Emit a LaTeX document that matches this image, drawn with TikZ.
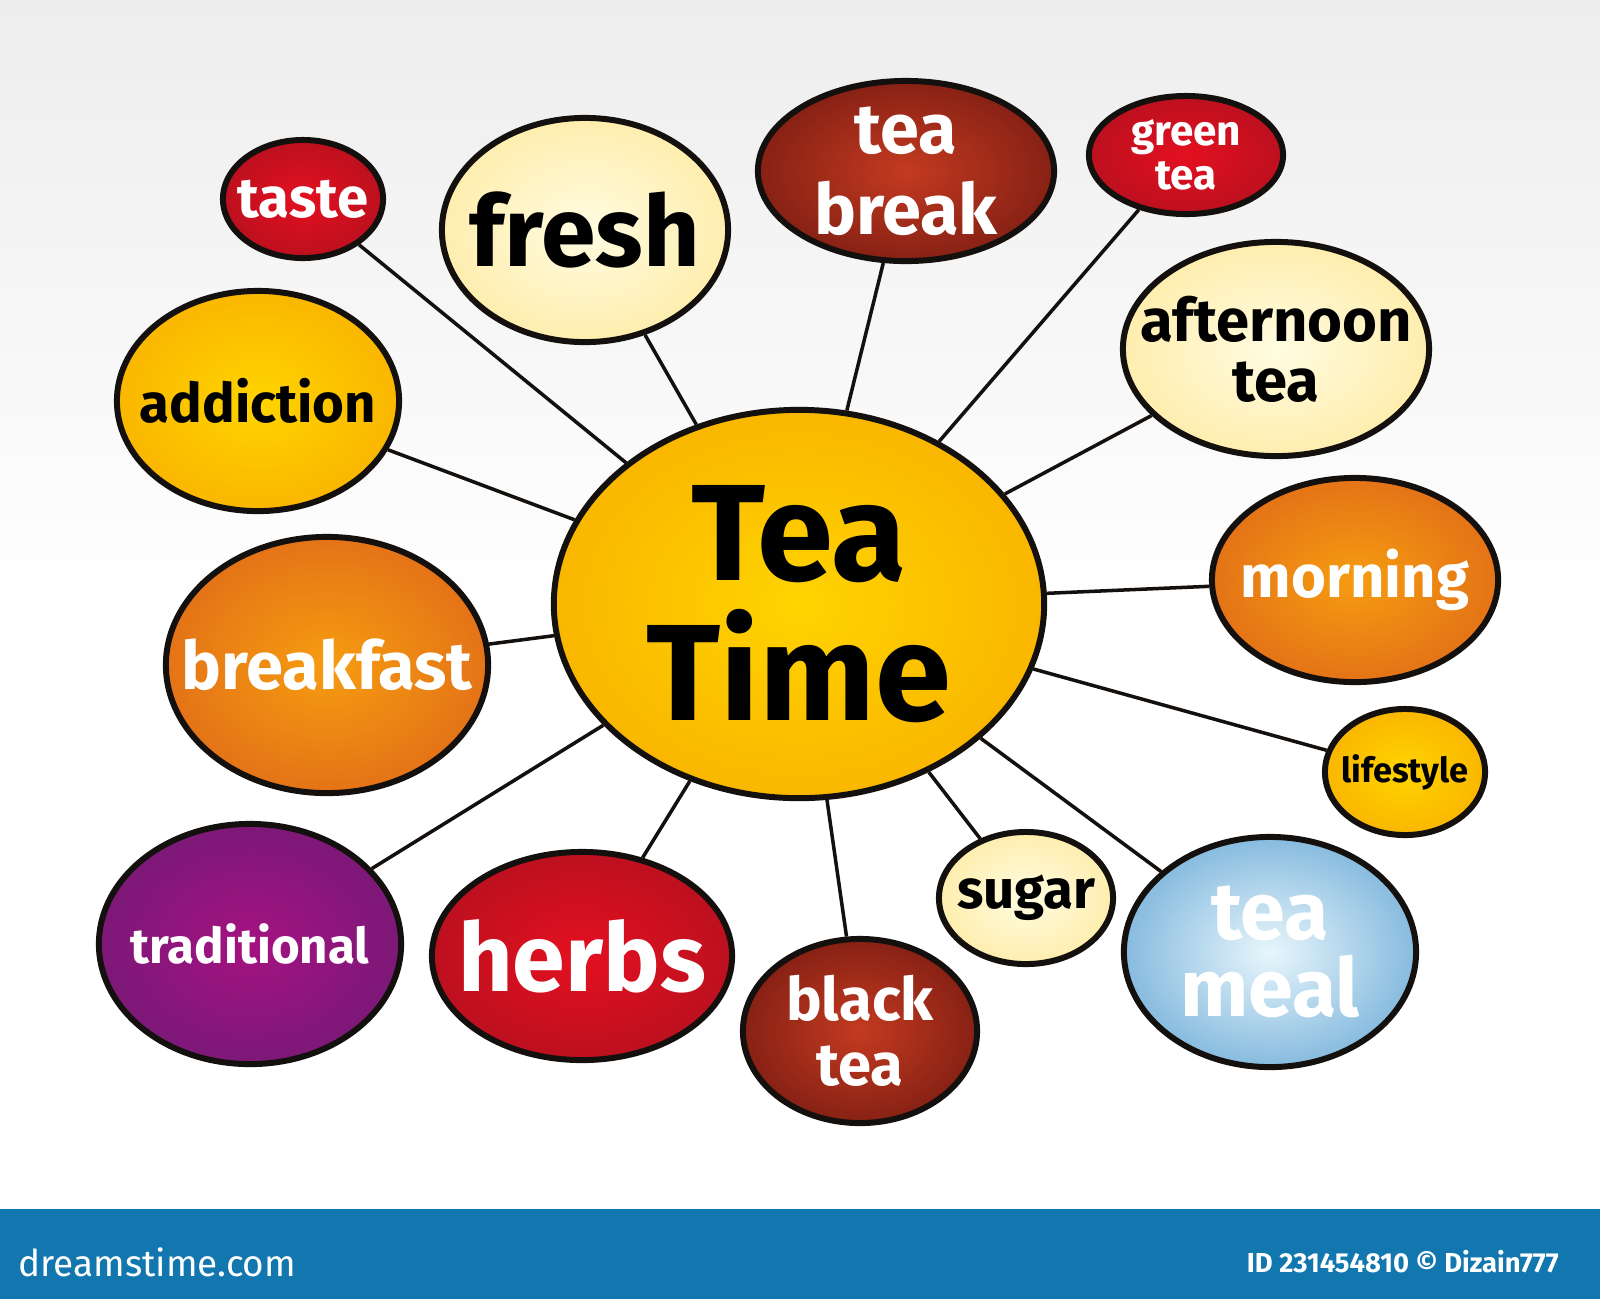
\documentclass[tikz,border=0pt]{standalone}
\usepackage{fontspec}
\setmainfont{Fira Sans}
\usetikzlibrary{shapes.geometric,positioning}
\definecolor{ink}{RGB}{20,16,14}
\definecolor{barblue}{RGB}{17,119,174}
\definecolor{sunin}{RGB}{255,212,0}
\definecolor{sunout}{RGB}{245,160,0}
\definecolor{creamin}{RGB}{255,252,225}
\definecolor{creamout}{RGB}{253,226,135}
\definecolor{orangein}{RGB}{246,156,16}
\definecolor{orangeout}{RGB}{214,84,28}
\definecolor{redin}{RGB}{228,16,32}
\definecolor{redout}{RGB}{158,16,30}
\definecolor{brownin}{RGB}{196,58,32}
\definecolor{brownout}{RGB}{88,14,12}
\definecolor{purplein}{RGB}{164,18,128}
\definecolor{purpleout}{RGB}{94,30,114}
\definecolor{bluein}{RGB}{232,246,252}
\definecolor{blueout}{RGB}{60,142,200}
\colorlet{glowin}{white}
\colorlet{glowout}{black}

\pgfdeclareradialshading[glowin,glowout]{glow}{\pgfpoint{0bp}{0bp}}{%
  color(0bp)=(glowin); color(44bp)=(glowout); color(50bp)=(glowout)}

\begin{document}
\begin{tikzpicture}[
        x=0.01cm, y=-0.01cm,
        font=\bfseries,
        radii/.style 2 args={minimum width={0.02cm*#1}, minimum height={0.02cm*#2}},
        glow in/.code={\colorlet{glowin}{#1}},
        glow out/.code={\colorlet{glowout}{#1}},
        bubble/.style 2 args={ellipse, draw=ink, line width=1.7pt,
            inner xsep=-80pt, inner ysep=-50pt,
            align=center, glow in=#1, glow out=#2, shade, shading=glow},
        link/.style={draw=ink, line width=1pt}
    ]
        % Background and frame
        \shade[top color=black!7, bottom color=white, middle color=white] (0,0) rectangle (1600,1209);
        \fill[barblue] (0,1209) rectangle (1600,1299);
        \useasboundingbox (0,0) rectangle (1600,1299);

        % Nodes
        \node[bubble={sunin}{sunout}, radii={245}{194}, font=\bfseries\fontsize{39}{40}\selectfont] (tea) at (799,604) {Tea\\Time};

        \node[bubble={redin}{redout}, radii={80}{59}, text=white, font=\bfseries\fontsize{16}{17}\selectfont] (taste) at (303,199) {taste};
        \node[bubble={creamin}{creamout}, radii={143}{112}, font=\bfseries\fontsize{28}{30}\selectfont] (fresh) at (585,230) {fresh};
        \node[bubble={brownin}{brownout}, radii={148}{90}, text=white, font=\bfseries\fontsize{20}{23}\selectfont] (break) at (906,171) {tea\\break};
        \node[bubble={redin}{redout}, radii={97}{59}, text=white, font=\bfseries\fontsize{12}{12.5}\selectfont] (green) at (1186,155) {green\\tea};
        \node[bubble={creamin}{creamout}, radii={153}{107}, font=\bfseries\fontsize{17}{17}\selectfont] (afternoon) at (1276,349) {afternoon\\tea};
        \node[bubble={sunin}{sunout}, radii={141}{110}, font=\bfseries\fontsize{15.5}{18}\selectfont] (addiction) at (258,401) {addiction};
        \node[bubble={orangein}{orangeout}, radii={143}{102}, text=white, font=\bfseries\fontsize{17}{19}\selectfont] (morning) at (1355,580) {morning};
        \node[bubble={orangein}{orangeout}, radii={161}{128}, text=white, font=\bfseries\fontsize{19}{21}\selectfont] (breakfast) at (327,665) {breakfast};
        \node[bubble={sunin}{sunout}, radii={80}{63}, font=\bfseries\fontsize{9.8}{12}\selectfont] (lifestyle) at (1405,772) {lifestyle};
        \node[bubble={purplein}{purpleout}, radii={151}{120}, text=white, font=\bfseries\fontsize{14}{16}\selectfont] (traditional) at (250,944) {traditional};
        \node[bubble={redin}{redout}, radii={150}{104}, text=white, font=\bfseries\fontsize{27}{29}\selectfont] (herbs) at (582,956) {herbs};
        \node[bubble={brownin}{brownout}, radii={117}{92}, text=white, font=\bfseries\fontsize{17}{18.5}\selectfont] (black) at (860,1031) {black\\tea};
        \node[bubble={creamin}{creamout}, radii={87}{66}, font=\bfseries\fontsize{15.5}{17}\selectfont] (sugar) at (1026,898) {sugar};
        \node[bubble={bluein}{blueout}, radii={146}{115}, text=white, font=\bfseries\fontsize{23}{22}\selectfont] (meal) at (1270,952) {tea\\meal};

        % Links from the centre
        \foreach \leaf in {taste,fresh,break,green,afternoon,addiction,morning,breakfast,lifestyle,traditional,herbs,black,sugar,meal}
            \draw[link] (tea) -- (\leaf);

        % Footer
        \node[anchor=west, text=white, font=\fontsize{10.5}{12}\selectfont] (site) at (6,1262) {dreamstime.com};
        \node[anchor=east, text=white, font=\bfseries\fontsize{7.8}{9}\selectfont] (credit) at (1571,1262) {ID 231454810 © Dizain777};
    \end{tikzpicture}
\end{document}
